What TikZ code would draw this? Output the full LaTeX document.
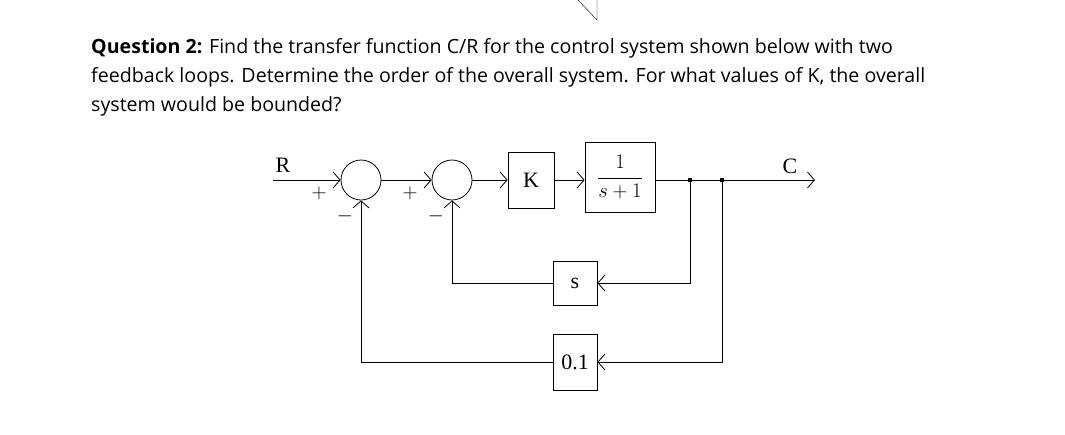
\documentclass[tikz,border=0pt]{standalone}
\usepackage{fontspec}
\setmainfont{Liberation Serif}
\newfontfamily\qfont{Open Sans}
\usetikzlibrary{arrows.meta,positioning}

\begin{document}
\begin{tikzpicture}[x=1pt, y=-1pt,
    block/.style={rectangle, draw, thick, fill=white, font=\fontsize{22}{26}\selectfont},
    sumnode/.style={circle, draw, thick, minimum size=40pt, inner sep=0pt},
    arrow/.style={-{Straight Barb[length=7pt,width=16pt]}, thick},
    sgn/.style={font=\fontsize{22}{24}\selectfont, inner sep=1pt},
    dot/.style={rectangle, fill, inner sep=0pt, minimum size=4pt}
]
    \useasboundingbox (0,0) rectangle (1065,434);
    % Question text
    \node[anchor=north west, align=left, inner sep=0pt, font=\qfont\fontsize{19.6}{29}\selectfont] (question) at (91,38)
        {\textbf{Question 2:} Find the transfer function C/R for the control system shown below with two\\
         feedback loops. Determine the order of the overall system. For what values of K, the overall\\
         system would be bounded?};
    \draw (578,0) -- (597,20) -- (597,0);

    % Forward path
    \coordinate (in) at (273,180);
    \node[font=\fontsize{22}{26}\selectfont] (rlbl) at (283,165) {R};
    \node[sumnode] (sum1) at (361,180) {};
    \node[sumnode] (sum2) at (452,180) {};
    \node[block, minimum width=46pt, minimum height=56pt] (gain) at (531,180) {K};
    \node[block, minimum width=70pt, minimum height=70pt, inner sep=2pt] (plant) at (620,177) {$\displaystyle\frac{1}{s+1}$};
    \coordinate (j1) at (690,180);
    \coordinate (j2) at (722,180);
    \coordinate (out) at (815,180);
    \node[font=\fontsize{22}{26}\selectfont] (clbl) at (790,166) {C};

    % Feedback blocks
    \node[block, minimum width=44pt, minimum height=44pt] (deriv) at (575,283) {s};
    \node[block, minimum width=44pt, minimum height=56pt] (fb) at (575,362) {0.1};

    \draw[arrow] (in) -- (sum1);
    \draw[arrow] (sum1) -- (sum2);
    \draw[arrow] (sum2) -- (gain);
    \draw[arrow] (gain.east) -- (gain.east -| plant.west);
    \draw[arrow] (gain.east -| plant.east) -- (out);
    \node[dot] at (j1) {};
    \node[dot] at (j2) {};

    \draw[arrow] (j1) |- (deriv);
    \draw[arrow] (deriv) -| (sum2);
    \draw[arrow] (j2) |- (fb);
    \draw[arrow] (fb) -| (sum1);

    % Signs
    \node[sgn] at (319,193) {$+$};
    \node[sgn] at (410,193) {$+$};
    \node[sgn] at (345,216) {$-$};
    \node[sgn] at (436,216) {$-$};
\end{tikzpicture}
\end{document}
